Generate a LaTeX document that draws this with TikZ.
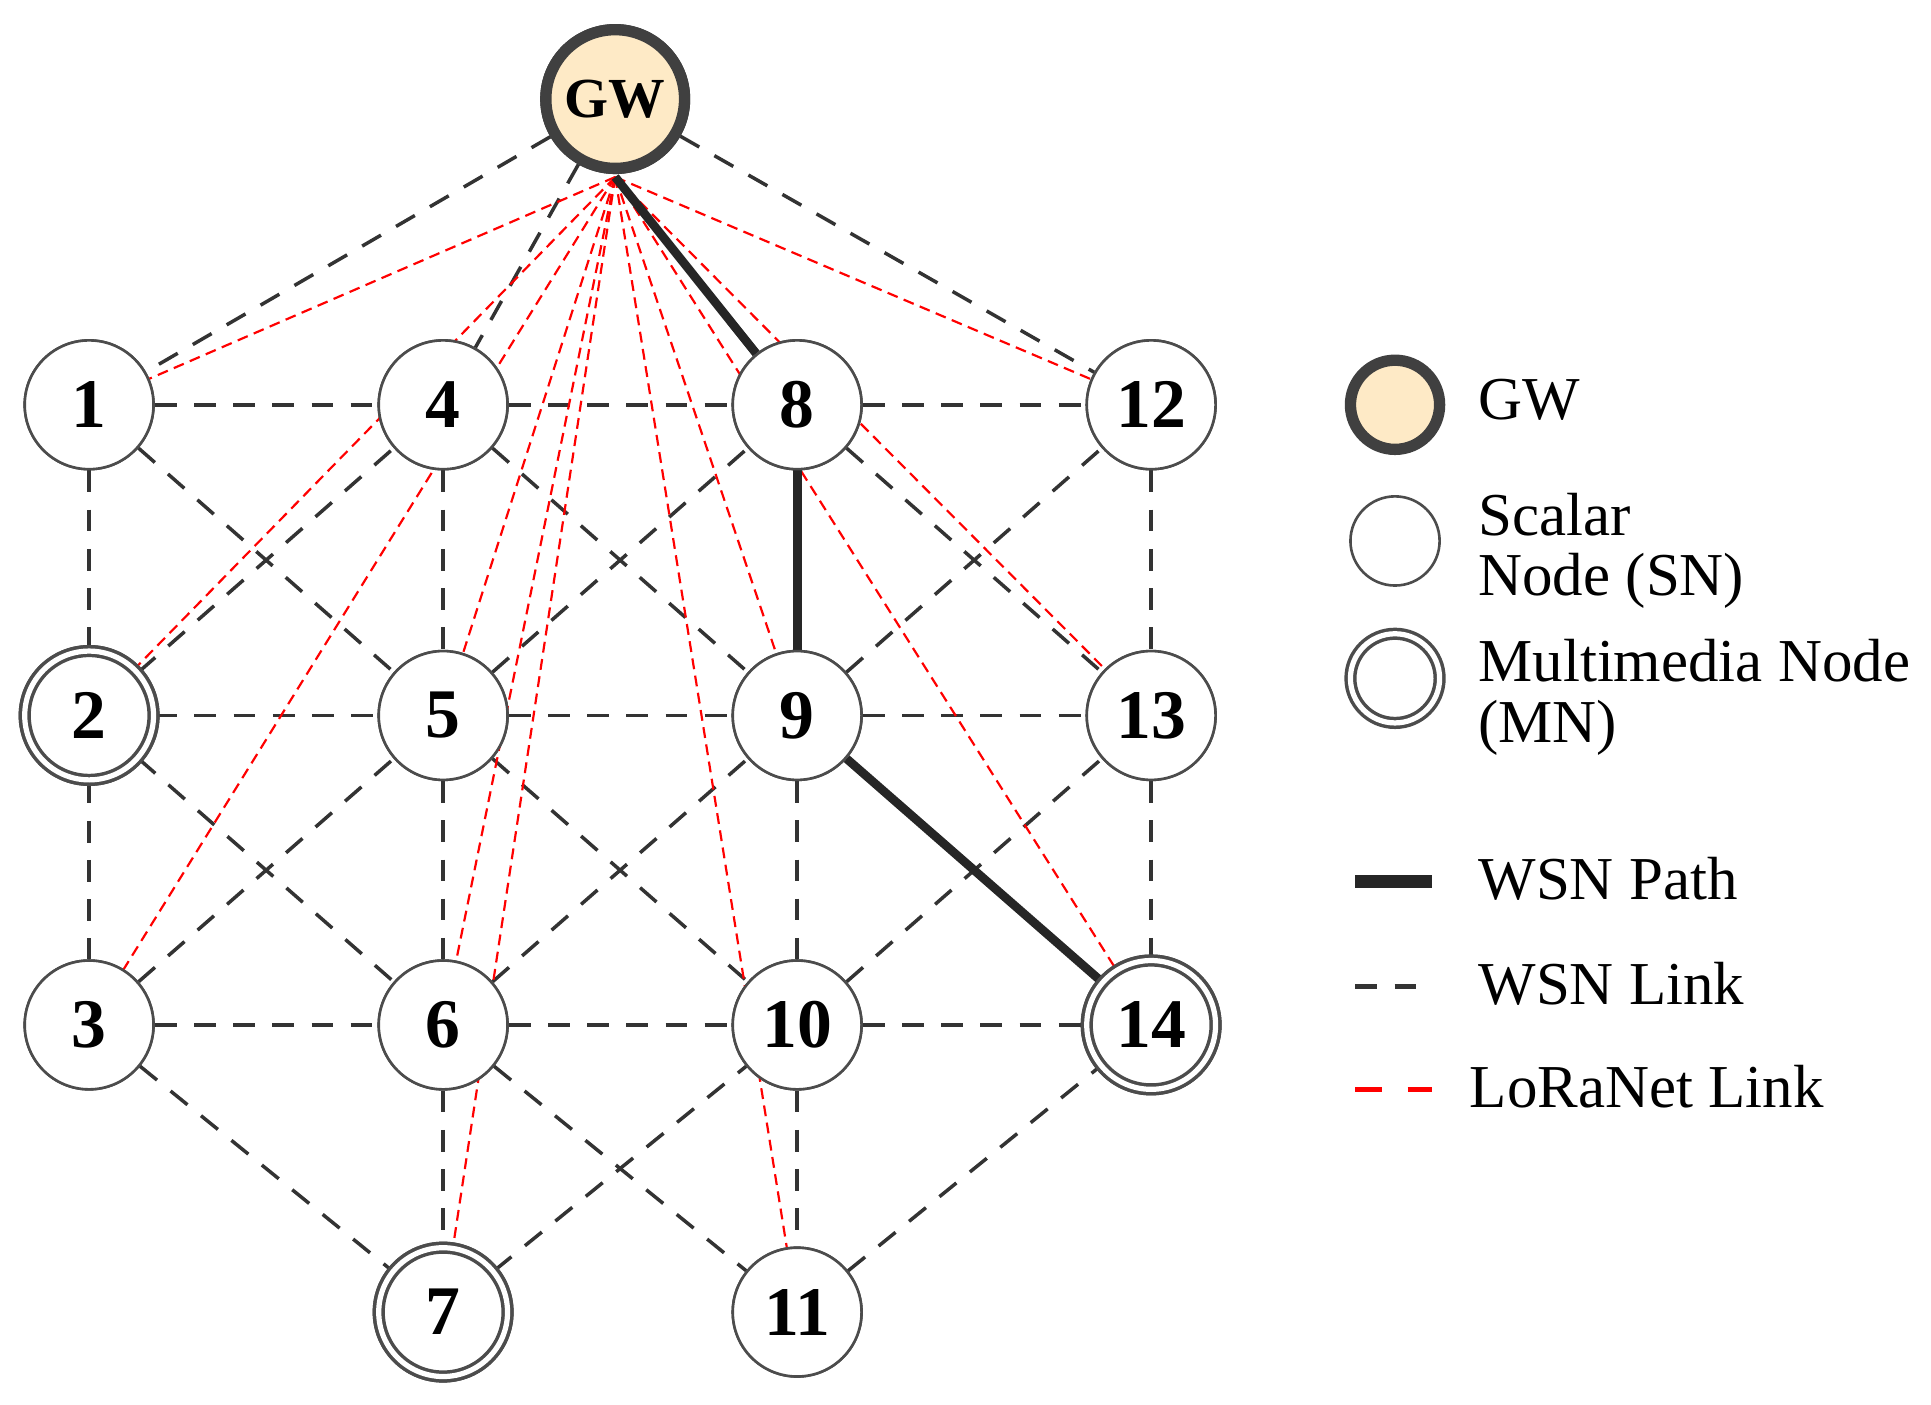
\documentclass[tikz,border=0pt]{standalone}
\usepackage{fontspec}
\setmainfont{Liberation Serif}
\usetikzlibrary{positioning}

\begin{document}
\begin{tikzpicture}[
    x=0.01cm, y=-0.01cm,
    sn/.style={%
      draw=black!70,
      circle,
      fill=white,
      line width=0.6pt,
      minimum size=1.04cm,
      inner sep=0pt,
      font=\fontsize{16}{16}\selectfont\bfseries,
    },
    mn/.style={%
      sn,
      double=white,
      double distance=1.2pt,
      line width=0.8pt,
    },
    gw/.style={%
      draw=black!75,
      circle,
      fill=yellow!25!orange!20,
      line width=2.6pt,
      minimum size=1.12cm,
      inner sep=0pt,
      font=\fontsize{13}{13}\selectfont\bfseries,
    },
    wsn/.style={dashed, dash pattern=on 5pt off 4pt, black!80, line width=0.8pt},
    lora/.style={dashed, dash pattern=on 2.5pt off 1.5pt, red, line width=0.5pt},
    path/.style={black!85, line width=2pt},
    lbl/.style={anchor=west, align=left, font=\fontsize{14}{14}\selectfont},
  ]
    \useasboundingbox (0,0) rectangle (1560,1135);

    \node [gw] (GW) at (497,80) {GW};
    \coordinate (G) at (497,143);

    \node [sn] (n1) at (72,327) {1};
    \node [mn] (n2) at (72,578) {2};
    \node [sn] (n3) at (72,828) {3};
    \node [sn] (n4) at (358,327) {4};
    \node [sn] (n5) at (358,578) {5};
    \node [sn] (n6) at (358,828) {6};
    \node [mn] (n7) at (358,1060) {7};
    \node [sn] (n8) at (644,327) {8};
    \node [sn] (n9) at (644,578) {9};
    \node [sn] (n10) at (644,828) {10};
    \node [sn] (n11) at (644,1060) {11};
    \node [sn] (n12) at (930,327) {12};
    \node [sn] (n13) at (930,578) {13};
    \node [mn] (n14) at (930,828) {14};

    % WSN links
    \begin{scope}[on background layer/.style={}]
    \draw [wsn] (GW) -- (n1);
    \draw [wsn] (GW) -- (n4);
    \draw [wsn] (GW) -- (n12);
    \draw [wsn] (n1) -- (n4);
    \draw [wsn] (n4) -- (n8);
    \draw [wsn] (n8) -- (n12);
    \draw [wsn] (n2) -- (n5);
    \draw [wsn] (n5) -- (n9);
    \draw [wsn] (n9) -- (n13);
    \draw [wsn] (n3) -- (n6);
    \draw [wsn] (n6) -- (n10);
    \draw [wsn] (n10) -- (n14);
    \draw [wsn] (n1) -- (n2);
    \draw [wsn] (n2) -- (n3);
    \draw [wsn] (n4) -- (n5);
    \draw [wsn] (n5) -- (n6);
    \draw [wsn] (n6) -- (n7);
    \draw [wsn] (n9) -- (n10);
    \draw [wsn] (n10) -- (n11);
    \draw [wsn] (n12) -- (n13);
    \draw [wsn] (n13) -- (n14);
    \draw [wsn] (n1) -- (n5);
    \draw [wsn] (n2) -- (n4);
    \draw [wsn] (n4) -- (n9);
    \draw [wsn] (n5) -- (n8);
    \draw [wsn] (n8) -- (n13);
    \draw [wsn] (n9) -- (n12);
    \draw [wsn] (n2) -- (n6);
    \draw [wsn] (n3) -- (n5);
    \draw [wsn] (n5) -- (n10);
    \draw [wsn] (n6) -- (n9);
    \draw [wsn] (n10) -- (n13);
    \draw [wsn] (n3) -- (n7);
    \draw [wsn] (n6) -- (n11);
    \draw [wsn] (n7) -- (n10);
    \draw [wsn] (n11) -- (n14);
    \end{scope}

    % LoRaNet links
    \draw [lora] (G) -- (n1);
    \draw [lora] (G) -- (n2);
    \draw [lora] (G) -- (n3);
    \draw [lora] (G) -- (n5);
    \draw [lora] (G) -- (n6);
    \draw [lora] (G) -- (n7);
    \draw [lora] (G) -- (n9);
    \draw [lora] (G) -- (n11);
    \draw [lora] (G) -- (n12);
    \draw [lora] (G) -- (n13);
    \draw [lora] (G) -- (n14);

    % WSN path
    \draw [path] (G) -- (n8);
    \draw [path] (n8) -- (n9);
    \draw [path] (n9) -- (n14);

    % redraw nodes on top
    \node [gw] at (GW) {GW};
    \node [sn] at (n1) {1};
    \node [mn] at (n2) {2};
    \node [sn] at (n3) {3};
    \node [sn] at (n4) {4};
    \node [sn] at (n5) {5};
    \node [sn] at (n6) {6};
    \node [mn] at (n7) {7};
    \node [sn] at (n8) {8};
    \node [sn] at (n9) {9};
    \node [sn] at (n10) {10};
    \node [sn] at (n11) {11};
    \node [sn] at (n12) {12};
    \node [sn] at (n13) {13};
    \node [mn] at (n14) {14};

    % legend
    \node [gw, minimum size=0.72cm, font=\normalsize] (lgw) at (1127,327) {};
    \node [lbl] (tgw) at (1182,323) {GW};
    \node [sn, minimum size=0.72cm] (lsn) at (1127,437) {};
    \node [lbl] (tsn) at (1182,445) {Scalar\\Node (SN)};
    \node [mn, minimum size=0.72cm] (lmn) at (1127,548) {};
    \node [lbl] (tmn) at (1182,563) {Multimedia Node\\(MN)};
    \coordinate (pa) at (1095,712);
    \coordinate (pb) at (1157,712);
    \draw [path, line width=3pt] (pa) -- (pb);
    \node [lbl] (tp) at (1182,710) {WSN Path};
    \coordinate (wa) at (1095,797);
    \coordinate (wb) at (1157,797);
    \draw [wsn, line width=1pt] (wa) -- (wb);
    \node [lbl] (tw) at (1182,795) {WSN Link};
    \coordinate (la) at (1095,880);
    \coordinate (lb) at (1157,880);
    \draw [lora, dash pattern=on 6pt off 6pt, line width=1.2pt] (la) -- (lb);
    \node [lbl] (tl) at (1175,878) {LoRaNet Link};

\end{tikzpicture}
\end{document}
